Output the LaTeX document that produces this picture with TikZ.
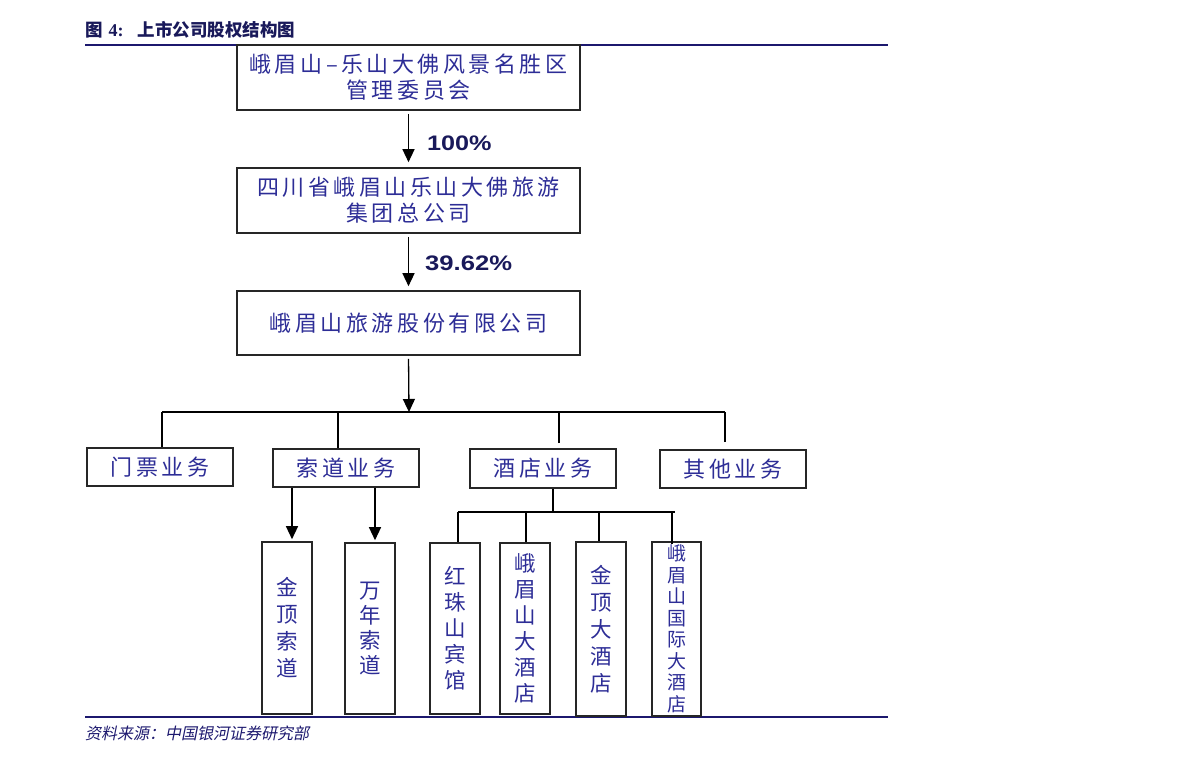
\documentclass[tikz,border=0pt]{standalone}
\usepackage{fontspec}
\usetikzlibrary{arrows.meta,calc}
\newfontfamily\cjk[LetterSpace=16]{Noto Sans CJK SC}
\newfontfamily\cjkplain{Noto Sans CJK SC}
\newfontfamily\cjksrc[FakeSlant=0.2]{Noto Sans CJK SC}
\newfontfamily\pctfont{Liberation Sans}
\newfontfamily\titlenum{Liberation Serif}
\definecolor{txtblue}{RGB}{45,45,150}
\definecolor{navy}{RGB}{28,24,110}
\definecolor{titlenavy}{RGB}{25,25,90}
\tikzset{
  box/.style={draw=black!85, line width=1.6pt, rectangle, inner sep=0pt, text=txtblue, align=center},
  hbox/.style={box, font=\cjk\fontsize{22}{26}\selectfont},
  vbox/.style={box, minimum width=50pt, font=\cjkplain\fontsize{21.5}{27}\selectfont},
  conn/.style={line width=1.3pt, black},
  arr/.style={conn, -{Triangle[length=13pt,width=12pt]}},
  rule/.style={line width=1.8pt, navy},
  pct/.style={anchor=west, text=titlenavy, font=\pctfont\bfseries\fontsize{21}{24}\selectfont, inner sep=0pt}
}
\begin{document}
\begin{tikzpicture}[x=1pt,y=-1pt]
\useasboundingbox (0,0) rectangle (1191,762);
% title and rules
\node[anchor=west, inner sep=0pt, text=titlenavy] (title) at (85,30)
  {\cjkplain\bfseries\fontsize{17.5}{20}\selectfont 图\hspace{6pt}{\titlenum\bfseries\fontsize{18}{20}\selectfont 4:}\hspace{14pt}上市公司股权结构图};
\coordinate (tl) at (85,45); \coordinate (tr) at (888,45);
\coordinate (bl) at (85,717); \coordinate (br) at (888,717);
\draw[rule] (tl) -- (tr);
\draw[rule] (bl) -- (br);
\node[anchor=west, inner sep=0pt, text=navy] (src) at (85,733)
  {\cjksrc\fontsize{16}{18}\selectfont 资料来源：中国银河证券研究部};
% main chain
\node[hbox, minimum width=343pt, minimum height=65pt] (b1) at (408.5,77.5)
  {峨眉山–乐山大佛风景名胜区\\管理委员会};
\node[hbox, minimum width=343pt, minimum height=65pt] (b2) at (408.5,200.5)
  {四川省峨眉山乐山大佛旅游\\集团总公司};
\node[hbox, minimum width=343pt, minimum height=64pt] (b3) at (408.5,323)
  {峨眉山旅游股份有限公司};
\draw[arr, shorten <=3pt, shorten >=5pt] (b1.south) -- (b2.north);
\draw[arr, shorten <=3pt, shorten >=4pt] (b2.south) -- (b3.north);
\node[pct] (p1) at (427,143) {\scalebox{1.2}[1]{100\%}};
\node[pct] (p2) at (425,263) {\scalebox{1.22}[1]{39.62\%}};
% business row
\node[hbox, minimum width=146pt, minimum height=38pt] (m1) at (160,467) {门票业务};
\node[hbox, minimum width=146pt, minimum height=38pt] (m2) at (346,468) {索道业务};
\node[hbox, minimum width=146pt, minimum height=39pt] (m3) at (543,468.5) {酒店业务};
\node[hbox, minimum width=146pt, minimum height=38pt] (m4) at (733,469) {其他业务};
\coordinate (bus) at (409,412);
\coordinate (busL) at (162,412);
\coordinate (busR) at (725,412);
\draw[arr, shorten <=3pt] (b3.south) -- (bus);
\draw[conn] (busL) -- (busR);
\draw[conn] (busL) -- ($(m1.north)+(2,0)$);
\draw[conn] ($(m2.north)+(-8,0)$) -- ($(m2.north)+(-8,-36)$);
\draw[conn] ($(m3.north)+(16,-5)$) -- ($(m3.north)+(16,-36.5)$);
\draw[conn] ($(m4.north)+(-8,-7)$) -- (busR);
% bottom boxes
\node[vbox, minimum height=172pt] (c1) at (287,628) {金\\顶\\索\\道};
\node[vbox, minimum height=171pt, font=\cjkplain\fontsize{21.5}{25}\selectfont] (c2) at (370,628.5) {万\\年\\索\\道};
\node[vbox, minimum height=171pt, font=\cjkplain\fontsize{21.5}{26}\selectfont] (h1) at (455,628.5) {红\\珠\\山\\宾\\馆};
\node[vbox, minimum height=171pt, font=\cjkplain\fontsize{21.5}{26}\selectfont] (h2) at (525,628.5) {峨\\眉\\山\\大\\酒\\店};
\node[vbox, minimum height=174pt] (h3) at (601,629) {金\\顶\\大\\酒\\店};
\node[vbox, minimum width=49pt, minimum height=174pt, font=\cjkplain\fontsize{19}{21.5}\selectfont] (h4) at (676.5,629) {峨\\眉\\山\\国\\际\\大\\酒\\店};
% cableway arrows
\draw[arr, shorten >=2pt] ($(m2.south)+(-54,0)$) -- ($(c1.north)+(5,0)$);
\draw[arr, shorten >=2pt] ($(m2.south)+(29,0)$) -- ($(c2.north)+(5,0)$);
% hotel tree
\coordinate (hbus) at (553,512);
\coordinate (hbL) at (458,512);
\coordinate (hbR) at (675,512);
\draw[conn] ($(m3.south)+(10,0)$) -- (hbus);
\draw[conn] (hbL) -- (hbR);
\draw[conn] (hbL) -- ($(h1.north)+(3,0)$);
\draw[conn] (526,512) -- ($(h2.north)+(1,0)$);
\draw[conn] (599,512) -- ($(h3.north)+(-2,0)$);
\draw[conn] (672,512) -- ($(h4.north)+(-4.5,3)$);
\end{tikzpicture}
\end{document}
